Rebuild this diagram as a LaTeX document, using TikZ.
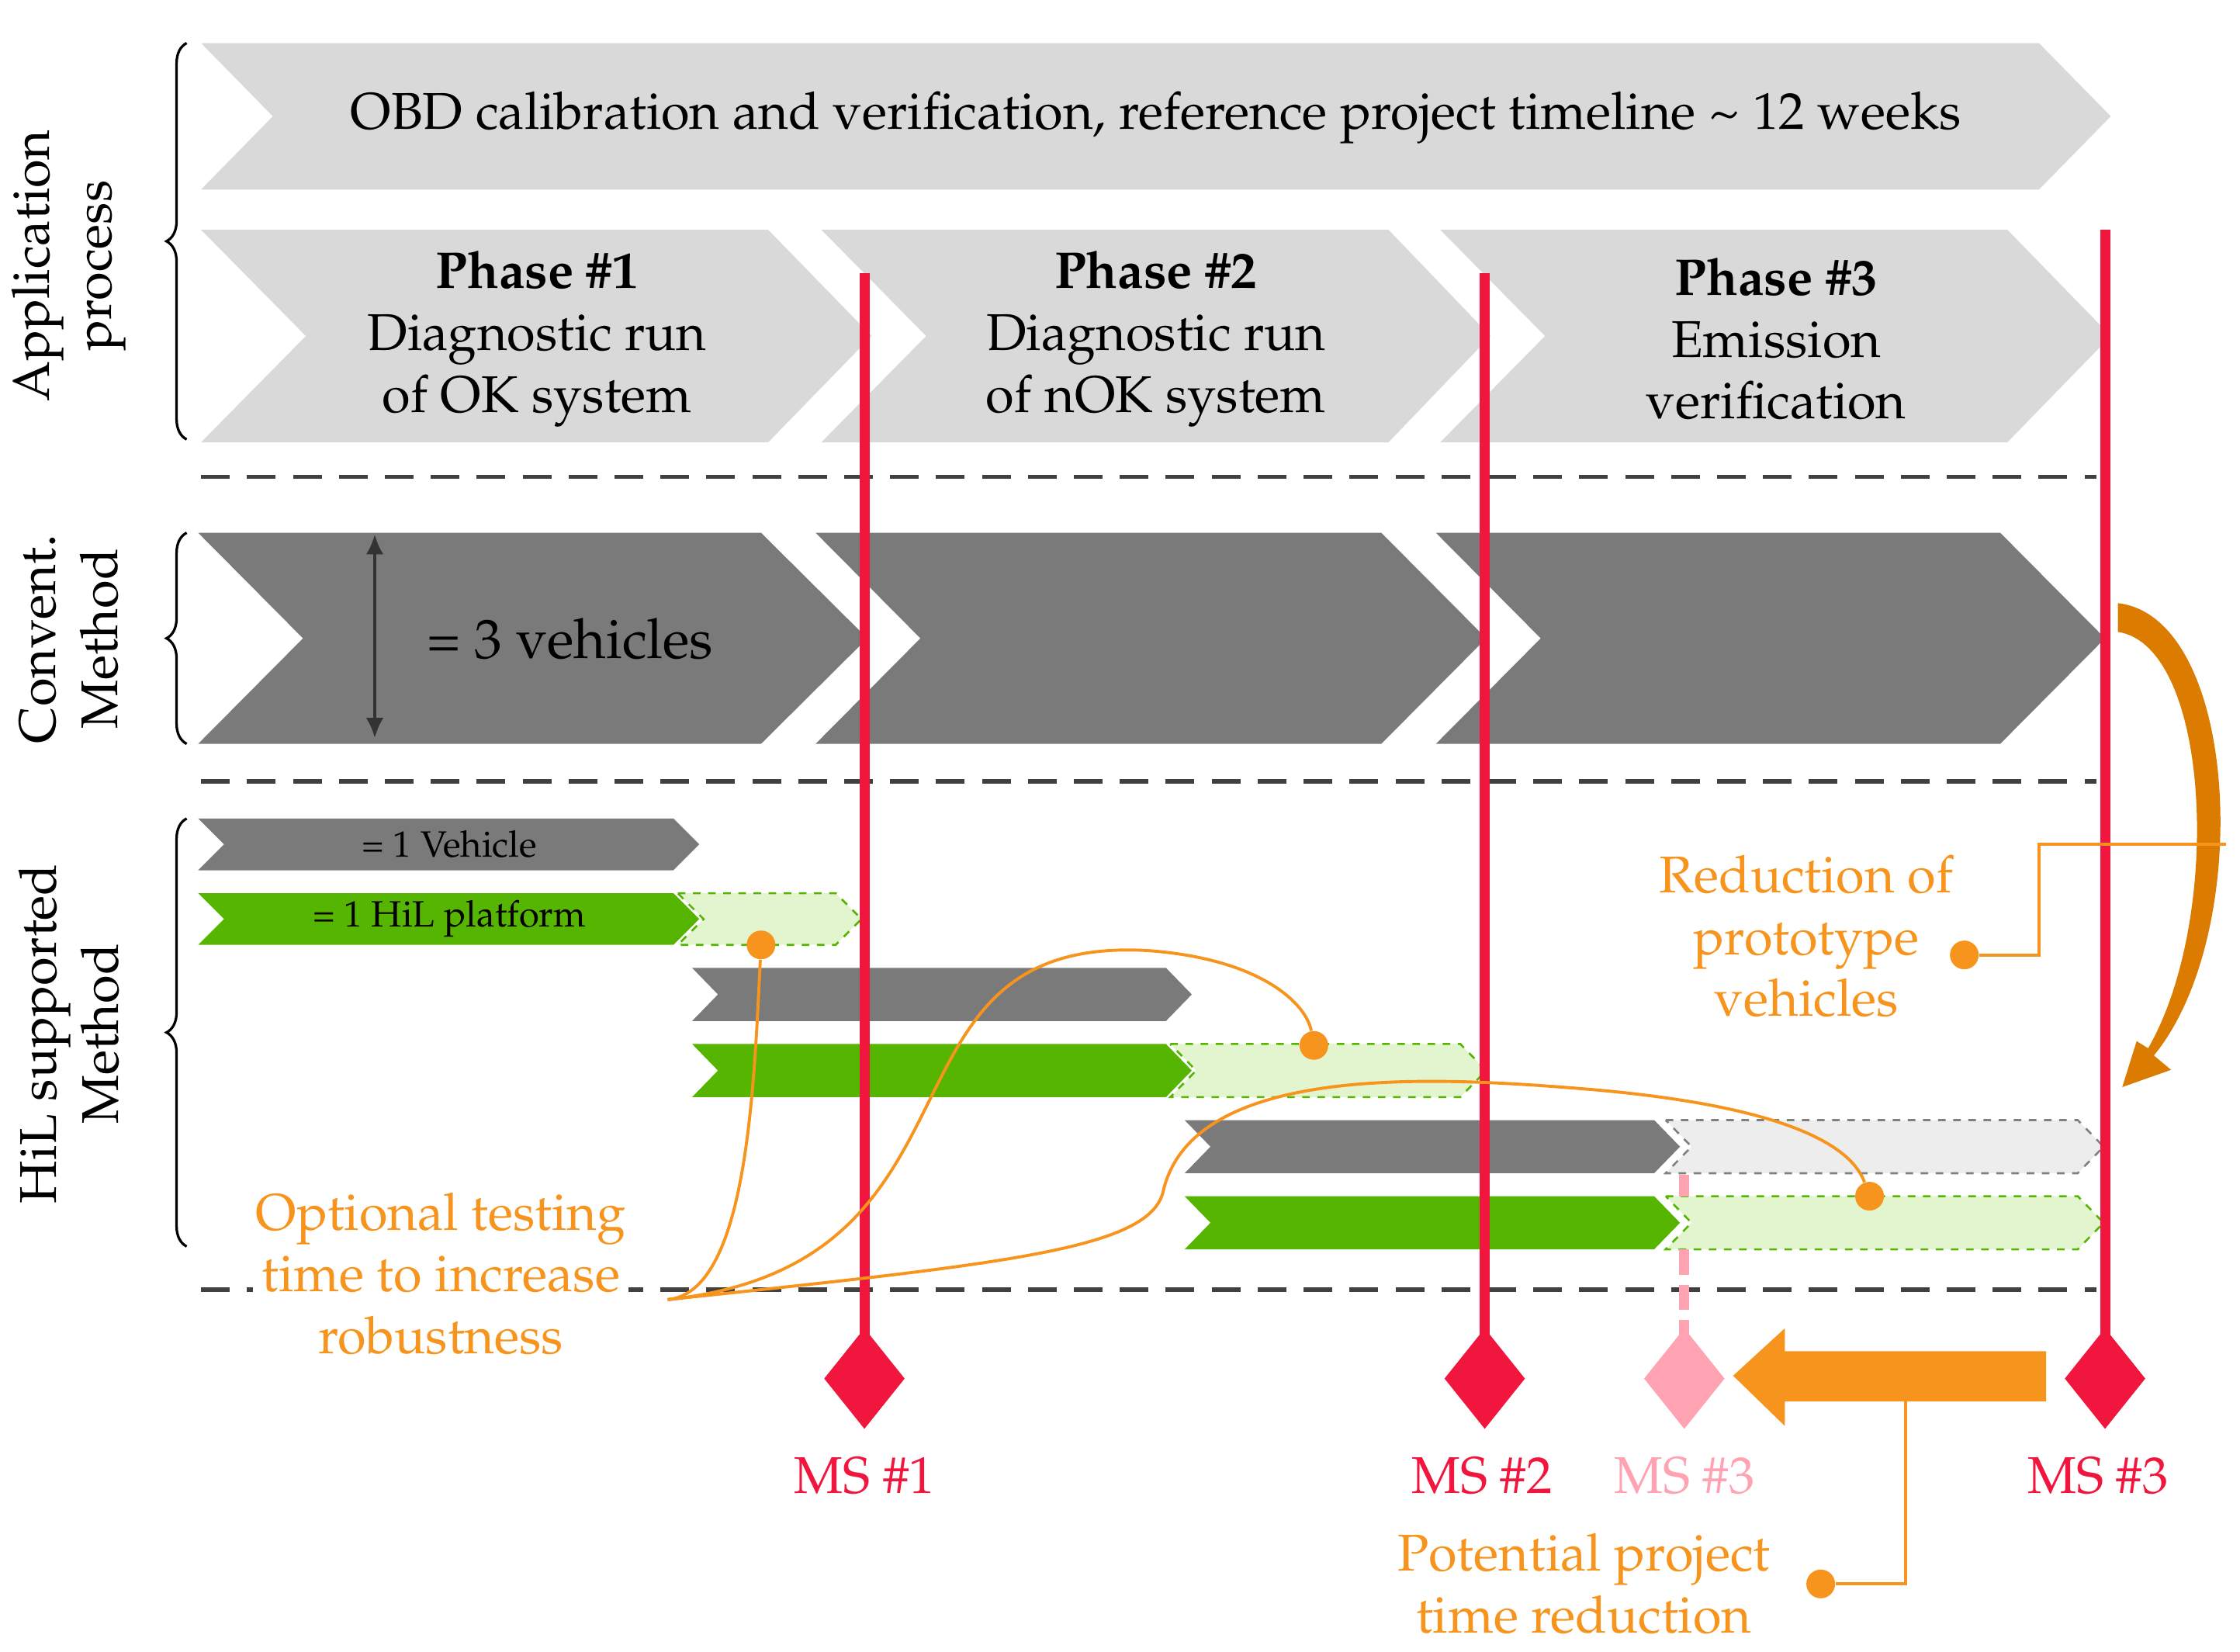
\documentclass[tikz,border=0pt]{standalone}
\usepackage[T1]{fontenc}
\usepackage{mathpazo}
\usetikzlibrary{decorations.pathreplacing,arrows.meta,calc}
\definecolor{lg}{HTML}{D9D9D9}
\definecolor{dg}{HTML}{7A7A7A}
\definecolor{gr}{HTML}{55B500}
\definecolor{lgr}{HTML}{E2F5CF}
\definecolor{rd}{HTML}{F0163E}
\definecolor{pk}{HTML}{FFA3B3}
\definecolor{og}{HTML}{F7941D}
\definecolor{og2}{HTML}{DB7C00}
\newcommand\mychev[7]{\fill[#7] (#1,#5)--(#3,#5)--(#4,{(#5+#6)/2})--(#3,#6)--(#1,#6)--(#2,{(#5+#6)/2})--cycle;}
\begin{document}
\begin{tikzpicture}[x=0.02cm,y=-0.02cm,
 sep/.style={line width=0.06cm,draw=black!75,dash pattern=on 0.4cm off 0.24cm},
 red/.style={draw=rd,line width=4pt},
 ol/.style={draw=og,line width=1.2pt},
 dot/.style={circle,fill=og,inner sep=0,minimum size=0.4cm},
 lab/.style={font=\fontsize{20.5}{24.5}\selectfont,align=center},
 olab/.style={lab,text=og},
 small/.style={font=\fontsize{14.5}{16}\selectfont},
 br/.style={black,line width=1pt,decorate,decoration={brace,amplitude=8pt}}]
\useasboundingbox (0,0) rectangle (1560,1150);
% top
\mychev{140}{190}{1420}{1470}{30}{132}{lg}
\node[lab] (top) at (805,82) {OBD calibration and verification, reference project timeline \textasciitilde\ 12 weeks};
% phases
\mychev{140}{213}{535}{607}{160}{308}{lg}
\mychev{572}{645}{967}{1038}{160}{308}{lg}
\mychev{1003}{1076}{1398}{1470}{160}{308}{lg}
\node[lab] (p1) at (374,236) {\textbf{Phase \#1}\\Diagnostic run\\of OK system};
\node[lab] (p2) at (805,236) {\textbf{Phase \#2}\\Diagnostic run\\of nOK system};
\node[lab] (p3) at (1237,236) {\textbf{Phase \#3}\\Emission\\verification};
% convent
\mychev{138}{211}{530}{604}{371}{518}{dg}
\mychev{568}{641}{962}{1035}{371}{518}{dg}
\mychev{1000}{1073}{1393}{1466}{371}{518}{dg}
\coordinate (va) at (261,372); \coordinate (vb) at (261,514);
\draw[black!80,line width=1.5pt,{Latex[length=8pt,width=7pt]}-{Latex[length=8pt,width=7pt]}] (va)--(vb);
\node[lab,font=\fontsize{22}{24}\selectfont] (v3) at (397,445) {= 3 vehicles};
% HiL bars
\mychev{138}{156}{469}{487}{570}{606}{dg}
\node[small] (v1) at (313,588) {= 1 Vehicle};
\mychev{472}{490}{582}{600}{622}{658}{lgr,draw=gr,dashed,line width=0.8pt}
\mychev{138}{156}{469}{487}{622}{658}{gr}
\node[small] (h1) at (313,640) {= 1 HiL platform};
\mychev{482}{500}{812}{830}{674}{711}{dg}
\mychev{815}{833}{1017}{1035}{727}{764}{lgr,draw=gr,dashed,line width=0.8pt}
\mychev{482}{500}{812}{830}{727}{764}{gr}
\mychev{1160}{1178}{1447}{1465}{780}{817}{black!7,draw=black!50,dashed,line width=0.8pt}
\mychev{825}{843}{1152}{1170}{780}{817}{dg}
\mychev{1160}{1178}{1447}{1465}{833}{870}{lgr,draw=gr,dashed,line width=0.8pt}
\mychev{825}{843}{1152}{1170}{833}{870}{gr}
% dashed separators
\coordinate (s1a) at (140,332); \coordinate (s1b) at (1460,332);
\coordinate (s2a) at (140,544); \coordinate (s2b) at (1460,544);
\coordinate (s3a) at (140,898); \coordinate (s3b) at (1460,898);
\draw[sep] (s1a)--(s1b); \draw[sep] (s2a)--(s2b); \draw[sep] (s3a)--(s3b);
% red lines
\draw[red] (602,190)--(602,935);
\draw[red] (1034,190)--(1034,935);
\draw[red] (1466,160)--(1466,935);
\draw[draw=pk,line width=4pt] (1173,818)--(1173,833);
\draw[draw=pk,line width=4pt,dash pattern=on 10pt off 4pt] (1173,870)--(1173,935);
\foreach \x/\c in {602/rd,1034/rd,1173/pk,1466/rd}{
 \fill[\c] (\x,925)--(\x+28,960)--(\x,995)--(\x-28,960)--cycle;}
\node[lab,text=rd] (m1) at (602,1028) {MS \#1};
\node[lab,text=rd] (m2) at (1032,1028) {MS \#2};
\node[lab,text=pk] (m3) at (1173,1028) {MS \#3};
\node[lab,text=rd] (m4) at (1461,1028) {MS \#3};
% big orange arrow
\fill[og] (1425,941)--(1243,941)--(1243,925)--(1207,958)--(1243,993)--(1243,976)--(1425,976)--cycle;
\node[olab] (ptr) at (1103,1103) {Potential project\\time reduction};
\node[dot] (d1) at (1268,1103) {};
\draw[ol] (d1)--(1327,1103)--(1327,976);
% curved arrow
\fill[og2] (1475,420) .. controls (1560,430) and (1570,650) .. (1500,735) -- (1512,745) -- (1478,757) -- (1488,725)--(1496,730) .. controls (1548,640) and (1540,450) .. (1475,440) -- cycle;
\node[olab] (rpv) at (1258,652) {Reduction of\\prototype\\vehicles};
\node[dot] (d2) at (1368,665) {};
\draw[ol] (d2)--(1420,665)--(1420,588)--(1550,588);
% optional testing
\node[olab,fill=white,inner sep=1pt] (opt) at (307,887) {Optional testing\\time to increase\\robustness};
\coordinate (o) at (465,905);
\node[dot] (d3) at (530,658) {};
\node[dot] (d4) at (915,728) {};
\node[dot] (d5) at (1302,833) {};
\draw[ol] (o) .. controls (520,900) and (525,760) .. (d3);
\draw[ol] (o) .. controls (700,880) and (600,650) .. (800,662) .. controls (880,668) and (910,700) .. (d4);
\draw[ol] (o) .. controls (700,880) and (800,870) .. (810,830) .. controls (830,740) and (1000,750) .. (1100,758) .. controls (1250,770) and (1290,800) .. (d5);
% braces and labels
\draw[br] (130,306)--(130,30);
\draw[br] (130,518)--(130,371);
\draw[br] (130,868)--(130,570);
\node[lab,rotate=90] (l1) at (48,185) {Application\\process};
\node[lab,rotate=90] (l2) at (48,445) {Convent.\\Method};
\node[lab,rotate=90] (l3) at (48,720) {HiL supported\\Method};
\end{tikzpicture}
\end{document}
